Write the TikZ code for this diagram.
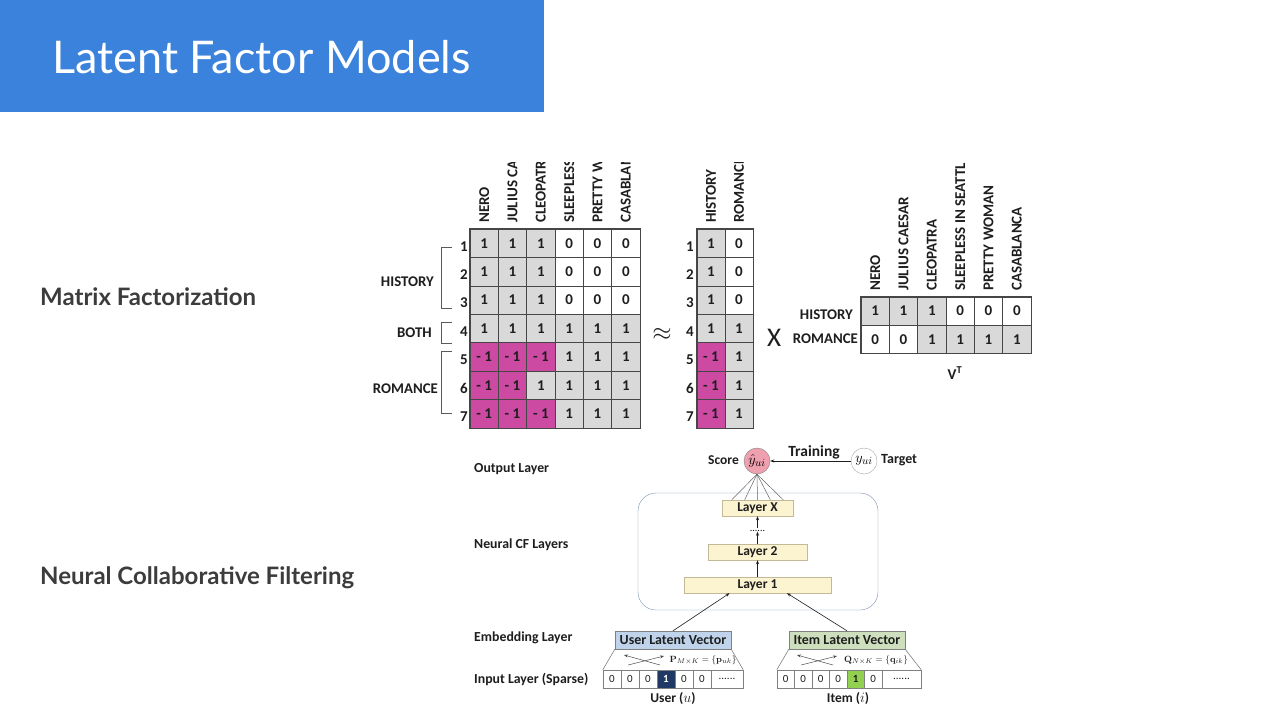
\documentclass[tikz,border=0pt]{standalone}
\usepackage[no-math]{fontspec}
\setmainfont{Carlito}
\newfontfamily\latofont{Lato}
\usetikzlibrary{arrows.meta,calc}
\definecolor{banner}{RGB}{59,130,220}
\definecolor{cellg}{RGB}{217,217,217}
\definecolor{cellw}{RGB}{255,255,255}
\definecolor{cellm}{RGB}{204,74,162}
\definecolor{gridc}{RGB}{70,70,70}
\definecolor{txt}{RGB}{30,30,30}
\definecolor{headc}{RGB}{60,60,60}
\definecolor{scorepink}{RGB}{238,160,175}
\definecolor{contc}{RGB}{125,145,175}
\definecolor{layerfill}{RGB}{252,243,208}
\definecolor{layerdraw}{RGB}{195,185,150}
\definecolor{userfill}{RGB}{191,211,234}
\definecolor{itemfill}{RGB}{205,223,188}
\definecolor{navy}{RGB}{31,56,100}
\definecolor{brightgreen}{RGB}{146,208,80}
\definecolor{bracketc}{RGB}{90,90,90}
\begin{document}
\begin{tikzpicture}[x=1pt,y=-1pt,
  cell/.style={draw=gridc, line width=0.6pt, minimum width=28.33pt, minimum height=28.43pt, inner sep=0pt, font=\fontsize{15}{15}\selectfont\bfseries, text=txt},
  collab/.style={rotate=90, anchor=west, inner sep=0pt, font=\fontsize{15}{15}\selectfont\bfseries, text=txt},
  rownum/.style={anchor=east, inner sep=0pt, font=\fontsize{15}{15}\selectfont\bfseries, text=txt},
  grplab/.style={anchor=east, inner sep=0pt, font=\fontsize{14.8}{15}\selectfont\bfseries, text=txt},
  heading/.style={anchor=base west, inner sep=0pt, font=\latofont\bfseries\fontsize{24}{26}\selectfont, text=headc},
  ncflab/.style={anchor=west, inner sep=0pt, font=\fontsize{13.8}{15}\selectfont\bfseries, text=txt},
  layerbox/.style={draw=layerdraw, fill=layerfill, minimum height=16pt, inner sep=0pt, font=\fontsize{13.5}{14}\selectfont\bfseries, text=txt},
  vecbox/.style={draw=gray, minimum width=116pt, minimum height=18pt, inner sep=0pt, font=\fontsize{13.9}{15}\selectfont\bfseries, text=txt},
  incell/.style={draw=gray, minimum width=18pt, minimum height=18pt, inner sep=0pt, font=\fontsize{11}{12}\selectfont, text=txt},
  bracket/.style={draw=bracketc, line width=0.8pt},
  thinarrow/.style={draw=txt, line width=0.6pt, -{Stealth[length=4pt,width=3pt]}}
]
\useasboundingbox (0,0) rectangle (1280,720);
\fill[white] (0,0) rectangle (1280,720);

% title banner
\fill[banner] (0,0) rectangle (544,112);
\node[anchor=base west, inner sep=0pt, text=white, font=\latofont\fontsize{45}{45}\selectfont] (title) at (52,73) {Latent Factor Models};

% headings
\node[heading] (mf) at (40,305) {Matrix Factorization};
\node[heading] (ncf) at (40,584) {Neural Collaborative Filtering};

% ---------------- Matrix R ----------------
\def\cw{28.33}
\def\ch{28.43}
\foreach \row [count=\i] in {{1/g,1/g,1/g,0/w,0/w,0/w},{1/g,1/g,1/g,0/w,0/w,0/w},{1/g,1/g,1/g,0/w,0/w,0/w},{1/g,1/g,1/g,1/g,1/g,1/g},{- 1/m,- 1/m,- 1/m,1/g,1/g,1/g},{- 1/m,- 1/m,1/g,1/g,1/g,1/g},{- 1/m,- 1/m,- 1/m,1/g,1/g,1/g}}{
  \foreach \v/\c [count=\j] in \row {
    \node[cell, fill=cell\c] (R-\i-\j) at ({470+\cw*(\j-0.5)},{229+\ch*(\i-0.5)}) {\v};
  }
  \node[rownum] (Rn-\i) at (468,{229+\ch*(\i-0.5)+3}) {\i};
}
\draw[gridc, line width=0.9pt] (R-1-1.north west) rectangle (R-7-6.south east);

% ---------------- Matrix U ----------------
\foreach \row [count=\i] in {{1/g,0/w},{1/g,0/w},{1/g,0/w},{1/g,1/g},{- 1/m,1/g},{- 1/m,1/g},{- 1/m,1/g}}{
  \foreach \v/\c [count=\j] in \row {
    \node[cell, fill=cell\c] (U-\i-\j) at ({697+28*(\j-0.5)},{229+\ch*(\i-0.5)}) {\v};
  }
  \node[rownum] (Un-\i) at (694,{229+\ch*(\i-0.5)+3}) {\i};
}
\draw[gridc, line width=0.9pt] (U-1-1.north west) rectangle (U-7-2.south east);

% ---------------- Matrix V^T ----------------
\foreach \row [count=\i] in {{1/g,1/g,1/g,0/w,0/w,0/w},{0/w,0/w,1/g,1/g,1/g,1/g}}{
  \foreach \v/\c [count=\j] in \row {
    \node[cell, minimum height=28.2pt, fill=cell\c] (V-\i-\j) at ({861+\cw*(\j-0.5)},{297+28.2*(\i-0.5)}) {\v};
  }
}
\draw[gridc, line width=0.9pt] (V-1-1.north west) rectangle (V-2-6.south east);

% column labels (clipped at the top like the source)
\begin{scope}
\clip (450,162) rectangle (1050,300);
\foreach \t [count=\j] in {NERO,JULIUS CA,CLEOPATR,SLEEPLESS,PRETTY W,CASABLAN}{
  \node[collab] (Rc-\j) at ({470+\cw*(\j-0.5)},223) {\t};
}
\foreach \t [count=\j] in {HISTORY,ROMANCE}{
  \node[collab] (Uc-\j) at ({697+28*(\j-0.5)},223) {\t};
}
\foreach \t [count=\j] in {NERO,JULIUS CAESAR,CLEOPATRA,SLEEPLESS IN SEATTL,PRETTY WOMAN,CASABLANCA}{
  \node[collab] (Vc-\j) at ({861+\cw*(\j-0.5)},291) {\t};
}
\end{scope}

% group brackets and labels
\draw[bracket] (452,247) -- (441,247) -- (441,308) -- (452,308);
\draw[bracket] (452,322) -- (441,322) -- (441,343) -- (452,343);
\draw[bracket] (452,351) -- (441,351) -- (441,413) -- (452,413);
\node[grplab] (ghist) at (434,282) {HISTORY};
\node[grplab] (gboth) at (432,333) {BOTH};
\node[grplab] (grom) at (438,389) {ROMANCE};

% approx and times
\node[inner sep=0pt, text=txt, font=\fontsize{40}{40}\selectfont] (approx) at (662,334) {$\approx$};
\node[inner sep=0pt, text=txt, font=\fontsize{27}{27}\selectfont] (times) at (774,338) {X};

% V^T labels
\node[grplab] (vh) at (853,315) {HISTORY};
\node[grplab] (vr) at (858,339) {ROMANCE};
\node[inner sep=0pt, text=txt, font=\fontsize{15}{15}\selectfont\bfseries] (vt) at (955,373) {V\textsuperscript{T}};

% ---------------- NCF ----------------
\node[ncflab] (lout) at (474,469) {Output Layer};
\node[ncflab] (lcf) at (474,545) {Neural CF Layers};
\node[ncflab] (lemb) at (474,638) {Embedding Layer};
\node[ncflab] (lin) at (474,679) {Input Layer (Sparse)};

\node[circle, draw=gray, fill=scorepink, minimum size=26pt, inner sep=0pt, font=\fontsize{15}{15}\selectfont] (score) at (757,461) {$\hat{y}_{ui}$};
\node[circle, draw=gray!70, fill=white, minimum size=26pt, inner sep=0pt, font=\fontsize{15}{15}\selectfont] (target) at (864,461) {$y_{ui}$};
\node[anchor=east, inner sep=0pt, font=\fontsize{13.5}{15}\selectfont\bfseries, text=txt] (scorelab) at (739,460) {Score};
\node[anchor=west, inner sep=0pt, font=\fontsize{14}{15}\selectfont\bfseries, text=txt] (targetlab) at (881,460) {Target};
\node[inner sep=0pt, font=\fontsize{15.5}{16}\selectfont\bfseries, text=txt] (training) at (814,452) {Training};
\draw[thinarrow] (target) -- (score);

\node[draw=contc, rounded corners=18pt, minimum width=240pt, minimum height=117pt, inner sep=0pt] (cont) at (758,551.5) {};

\node[layerbox, minimum width=71pt] (LX) at (757.5,508) {Layer X};
\node[layerbox, minimum width=99pt] (L2) at (757.5,552) {Layer 2};
\node[layerbox, minimum width=147pt] (L1) at (757.5,585) {Layer 1};
\node[inner sep=0.5pt, text height=2pt, text depth=0pt, font=\fontsize{10}{10}\selectfont] (dots) at (757.5,530) {......};

\draw[thinarrow] (L1.north) -- (L2.south);
\draw[thinarrow] (L2.north) -- (dots.south);
\draw[thinarrow] (dots.north) -- (LX.south);

\foreach \f in {0.14,0.32,0.5,0.68,0.86}{
  \draw[draw=gray!80!black, line width=0.5pt] (score.south) -- ($(LX.north west)!\f!(LX.north east)$);
}

% embedding vectors
\node[vecbox, fill=userfill] (uvec) at (673,640) {User Latent Vector};
\node[vecbox, fill=itemfill] (ivec) at (847,640) {Item Latent Vector};

\draw[thinarrow] (uvec.north) -- ($(L1.south west)!0.31!(L1.south east)$);
\draw[thinarrow] (ivec.north) -- ($(L1.south west)!0.70!(L1.south east)$);

% user input row
\foreach \v/\f [count=\k] in {0/white,0/white,0/white,1/navy,0/white,0/white}{
  \node[incell, fill=\f] (u\k) at ({603+18*(\k-0.5)},679) {\v};
}
\node[incell, text=white, fill=navy, font=\fontsize{11}{12}\selectfont\bfseries] at (u4) {1};
\node[incell, minimum width=32pt] (u7) at (727,679) {......};

% item input row
\foreach \v/\f [count=\k] in {0/white,0/white,0/white,0/white,1/brightgreen,0/white}{
  \node[incell, minimum width=17.5pt, fill=\f] (i\k) at ({777+17.5*(\k-0.5)},679) {\v};
}
\node[incell, minimum width=17.5pt, fill=brightgreen, font=\fontsize{11}{12}\selectfont\bfseries] at (i5) {1};
\node[incell, minimum width=39pt] (i7) at (901.5,679) {......};

% trapezoids
\draw[draw=gray, line width=0.6pt] (uvec.south west) -- (u1.north west);
\draw[draw=gray, line width=0.6pt] (uvec.south east) -- (u7.north east);
\draw[draw=gray, line width=0.6pt] (ivec.south west) -- (i1.north west);
\draw[draw=gray, line width=0.6pt] (ivec.south east) -- (i7.north east);

% crossed arrows
\coordinate (ua1) at (660,665); \coordinate (ua2) at (624,655);
\coordinate (ub1) at (628,665); \coordinate (ub2) at (664,656);
\draw[thinarrow, line width=0.5pt, draw=gray!60!black] (ua1) -- (ua2);
\draw[thinarrow, line width=0.5pt, draw=gray!60!black] (ub1) -- (ub2);
\coordinate (ia1) at (833,665); \coordinate (ia2) at (797,655);
\coordinate (ib1) at (801,665); \coordinate (ib2) at (837,656);
\draw[thinarrow, line width=0.5pt, draw=gray!60!black] (ia1) -- (ia2);
\draw[thinarrow, line width=0.5pt, draw=gray!60!black] (ib1) -- (ib2);

\node[inner sep=0pt, font=\fontsize{9.5}{11}\selectfont, text=txt] (pm) at (703,660) {$\mathbf{P}_{M\times K}=\{\mathbf{p}_{uk}\}$};
\node[inner sep=0pt, font=\fontsize{9.5}{11}\selectfont, text=txt] (qm) at (876,660) {$\mathbf{Q}_{N\times K}=\{\mathbf{q}_{ik}\}$};

\node[inner sep=0pt, font=\fontsize{13.5}{15}\selectfont\bfseries, text=txt] (ulab) at (673,699) {User ($u$)};
\node[inner sep=0pt, font=\fontsize{13.5}{15}\selectfont\bfseries, text=txt] (ilab) at (848,699) {Item ($i$)};
\end{tikzpicture}
\end{document}
